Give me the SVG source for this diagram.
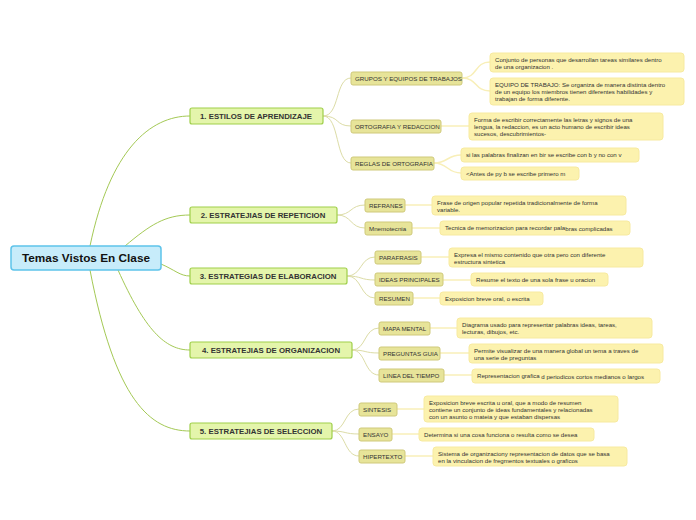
<svg xmlns="http://www.w3.org/2000/svg" width="696" height="520" viewBox="0 0 696 520">
<style>
text{font-family:"Liberation Sans",Arial,sans-serif;fill:#333}
.root rect{fill:#c7ecfa;stroke:#5ec3ea;stroke-width:1.5}
.root text{font-size:11.8px;font-weight:bold;fill:#111}
.main rect{fill:#e4f5ab;stroke:#9fcf4a;stroke-width:1.2}
.main text{font-size:7.8px;font-weight:bold;fill:#333}
.sub rect{fill:#e7e499;stroke:#cfc97a;stroke-width:1}
.sub text{font-size:6.2px;fill:#333}
.leaf rect{fill:#fcf2ae;stroke:#f7eaa0;stroke-width:1}
.leaf text{font-size:6.1px;fill:#333}
.c1{fill:none;stroke:#a4c955;stroke-width:1}
.c2{fill:none;stroke:#dcdca6;stroke-width:1}
.c3{fill:none;stroke:#f8efb8;stroke-width:1.5}
</style>
<g id="connectors">
<path class="c1" d="M90,246 C110,150 150,116 190,116"/>
<path class="c1" d="M125,246 C150,225 165,215 190,215"/>
<path class="c1" d="M161,264 C175,270 180,276 190,276"/>
<path class="c1" d="M118,270 C145,330 165,350 190,350"/>
<path class="c1" d="M90,270 C115,400 150,431 190,431"/>
<path class="c2" d="M323,116 C340,116 335,78 351,78"/>
<path class="c2" d="M323,116 C340,116 335,126 351,126"/>
<path class="c2" d="M323,116 C340,116 335,163 351,163"/>
<path class="c2" d="M337,215 C352,215 350,205 365,205"/>
<path class="c2" d="M337,215 C352,215 350,228 365,228"/>
<path class="c2" d="M347,276 C362,276 360,257 375,257"/>
<path class="c2" d="M347,276 C362,276 360,280 375,280"/>
<path class="c2" d="M347,276 C362,276 360,298 375,298"/>
<path class="c2" d="M352,350 C366,350 364,328 379,328"/>
<path class="c2" d="M352,350 C366,350 364,353 379,353"/>
<path class="c2" d="M352,350 C366,350 364,375 379,375"/>
<path class="c2" d="M332,431 C346,431 344,409 359,409"/>
<path class="c2" d="M332,431 C346,431 344,434 359,434"/>
<path class="c2" d="M332,431 C346,431 344,456 359,456"/>
<path class="c3" d="M462,78 C478,78 474,62 490,62"/>
<path class="c3" d="M462,78 C478,78 474,91 490,91"/>
<path class="c3" d="M441,126 L469,126"/>
<path class="c3" d="M434,163 C448,163 447,155 461,155"/>
<path class="c3" d="M434,163 C448,163 447,173 461,173"/>
<path class="c3" d="M405,205 L432,205"/>
<path class="c3" d="M412,228 L440,228"/>
<path class="c3" d="M421,257 L449,257"/>
<path class="c3" d="M443,280 L471,280"/>
<path class="c3" d="M413,298 L440,298"/>
<path class="c3" d="M430,328 L457,328"/>
<path class="c3" d="M440,353 L469,353"/>
<path class="c3" d="M444,375 L472,375"/>
<path class="c3" d="M397,409 L424,409"/>
<path class="c3" d="M392,434 L419,434"/>
<path class="c3" d="M405,456 L433,456"/>
</g>
<g id="root" class="root"><rect x="11" y="246" width="150" height="24" rx="3"/><text x="86" y="262" text-anchor="middle">Temas Vistos En Clase</text></g>
<g id="m1" class="main"><rect x="190" y="108" width="133" height="16" rx="2"/><text x="256" y="119" text-anchor="middle">1. ESTILOS DE APRENDIZAJE</text></g>
<g id="m2" class="main"><rect x="190" y="207" width="147" height="16" rx="2"/><text x="263" y="218" text-anchor="middle">2. ESTRATEJIAS DE REPETICION</text></g>
<g id="m3" class="main"><rect x="190" y="268" width="157" height="16" rx="2"/><text x="268" y="279" text-anchor="middle">3. ESTRATEGIAS DE ELABORACION</text></g>
<g id="m4" class="main"><rect x="190" y="342" width="162" height="16" rx="2"/><text x="271" y="353" text-anchor="middle">4. ESTRATEJIAS DE ORGANIZACION</text></g>
<g id="m5" class="main"><rect x="190" y="423" width="142" height="16" rx="2"/><text x="261" y="434" text-anchor="middle">5. ESTRATEJIAS DE SELECCION</text></g>
<g id="s1" class="sub"><rect x="351" y="72" width="111" height="13" rx="2"/><text x="355" y="81">GRUPOS Y EQUIPOS DE TRABAJOS</text></g>
<g id="s2" class="sub"><rect x="351" y="120" width="90" height="13" rx="2"/><text x="355" y="129">ORTOGRAFIA Y REDACCION</text></g>
<g id="s3" class="sub"><rect x="351" y="157" width="83" height="13" rx="2"/><text x="355" y="166">REGLAS DE ORTOGRAFIA</text></g>
<g id="s4" class="sub"><rect x="365" y="199" width="40" height="13" rx="2"/><text x="369" y="208">REFRANES</text></g>
<g id="s5" class="sub"><rect x="365" y="222" width="47" height="13" rx="2"/><text x="369" y="231">Mnemotecnia</text></g>
<g id="s6" class="sub"><rect x="375" y="251" width="46" height="13" rx="2"/><text x="379" y="260">PARAFRASIS</text></g>
<g id="s7" class="sub"><rect x="375" y="273" width="68" height="13" rx="2"/><text x="379" y="282">IDEAS PRINCIPALES</text></g>
<g id="s8" class="sub"><rect x="375" y="292" width="38" height="13" rx="2"/><text x="379" y="301">RESUMEN</text></g>
<g id="s9" class="sub"><rect x="379" y="322" width="51" height="13" rx="2"/><text x="383" y="331">MAPA MENTAL</text></g>
<g id="s10" class="sub"><rect x="379" y="347" width="61" height="13" rx="2"/><text x="383" y="356">PREGUNTAS GUIA</text></g>
<g id="s11" class="sub"><rect x="379" y="369" width="65" height="13" rx="2"/><text x="383" y="378">LINEA DEL TIEMPO</text></g>
<g id="s12" class="sub"><rect x="359" y="403" width="38" height="13" rx="2"/><text x="363" y="412">SINTESIS</text></g>
<g id="s13" class="sub"><rect x="359" y="428" width="33" height="13" rx="2"/><text x="363" y="437">ENSAYO</text></g>
<g id="s14" class="sub"><rect x="359" y="450" width="46" height="13" rx="2"/><text x="363" y="459">HIPERTEXTO</text></g>
<g id="l1" class="leaf"><rect x="490" y="53" width="194" height="19" rx="3"/><text x="495" y="62">Conjunto de personas que desarrollan tareas similares dentro</text><text x="495" y="69">de una organizacion .</text></g>
<g id="l2" class="leaf"><rect x="490" y="78" width="194" height="27" rx="3"/><text x="495" y="87">EQUIPO DE TRABAJO: Se organiza de manera distinta dentro</text><text x="495" y="94">de un equipo los miembros tienen diferentes habilidades y</text><text x="495" y="101">trabajan de forma diferente.</text></g>
<g id="l3" class="leaf"><rect x="469" y="113" width="194" height="27" rx="3"/><text x="474" y="122">Forma de escribir correctamente las letras y signos de una</text><text x="474" y="129">lengua, la redaccion, es un acto humano de escribir ideas</text><text x="474" y="136">sucesos, descubrimientos-</text></g>
<g id="l4" class="leaf"><rect x="461" y="148" width="178" height="14" rx="3"/><text x="466" y="157">si las palabras finalizan en bir se escribe con b y no con v</text></g>
<g id="l5" class="leaf"><rect x="461" y="167" width="118" height="13" rx="3"/><text x="466" y="176">&lt;Antes de py b se escribe primero m</text></g>
<g id="l6" class="leaf"><rect x="432" y="196" width="194" height="19" rx="3"/><text x="437" y="205">Frase de origen popular repetida tradicionalmente de forma</text><text x="437" y="212">variable.</text></g>
<g id="l7" class="leaf"><rect x="440" y="221" width="190" height="14" rx="3"/><text x="445" y="230">Tecnica de memorizacion  para recordar pala<tspan dy="1">bras complicadas</tspan></text></g>
<g id="l8" class="leaf"><rect x="449" y="248" width="194" height="19" rx="3"/><text x="454" y="257">Expresa el mismo contenido que otra pero con diferente</text><text x="454" y="264">estructura sintetica</text></g>
<g id="l9" class="leaf"><rect x="471" y="273" width="137" height="13" rx="3"/><text x="476" y="282">Resume el texto de una sola frase u oracion</text></g>
<g id="l10" class="leaf"><rect x="440" y="292" width="103" height="13" rx="3"/><text x="445" y="301">Exposicion breve oral, o escrita</text></g>
<g id="l11" class="leaf"><rect x="457" y="318" width="195" height="20" rx="3"/><text x="462" y="327">Diagrama usado para representar palabras ideas, tareas,</text><text x="462" y="334">lecturas, dibujos, etc.</text></g>
<g id="l12" class="leaf"><rect x="469" y="344" width="194" height="19" rx="3"/><text x="474" y="353">Permite visualizar de una manera global un tema a traves de</text><text x="474" y="360">una serie de preguntas</text></g>
<g id="l13" class="leaf"><rect x="472" y="369" width="188" height="14" rx="3"/><text x="477" y="378">Representacion grafica <tspan dy="1">d periodicos cortos medianos o largos</tspan></text></g>
<g id="l14" class="leaf"><rect x="424" y="396" width="194" height="26" rx="3"/><text x="429" y="405">Exposicion breve escrita u oral, que a modo de resumen</text><text x="429" y="412">contiene un conjunto de ideas fundamentales y relacionadas</text><text x="429" y="419">con un asunto o mateia y que estaban dispersas</text></g>
<g id="l15" class="leaf"><rect x="419" y="428" width="175" height="13" rx="3"/><text x="424" y="437">Determina si una cosa funciona o resulta como se desea</text></g>
<g id="l16" class="leaf"><rect x="433" y="447" width="194" height="19" rx="3"/><text x="438" y="456">Sistema de organizaciony representacion de datos que se basa</text><text x="438" y="463">en la vinculacion de fregmentos textuales o graficos</text></g>
</svg>
